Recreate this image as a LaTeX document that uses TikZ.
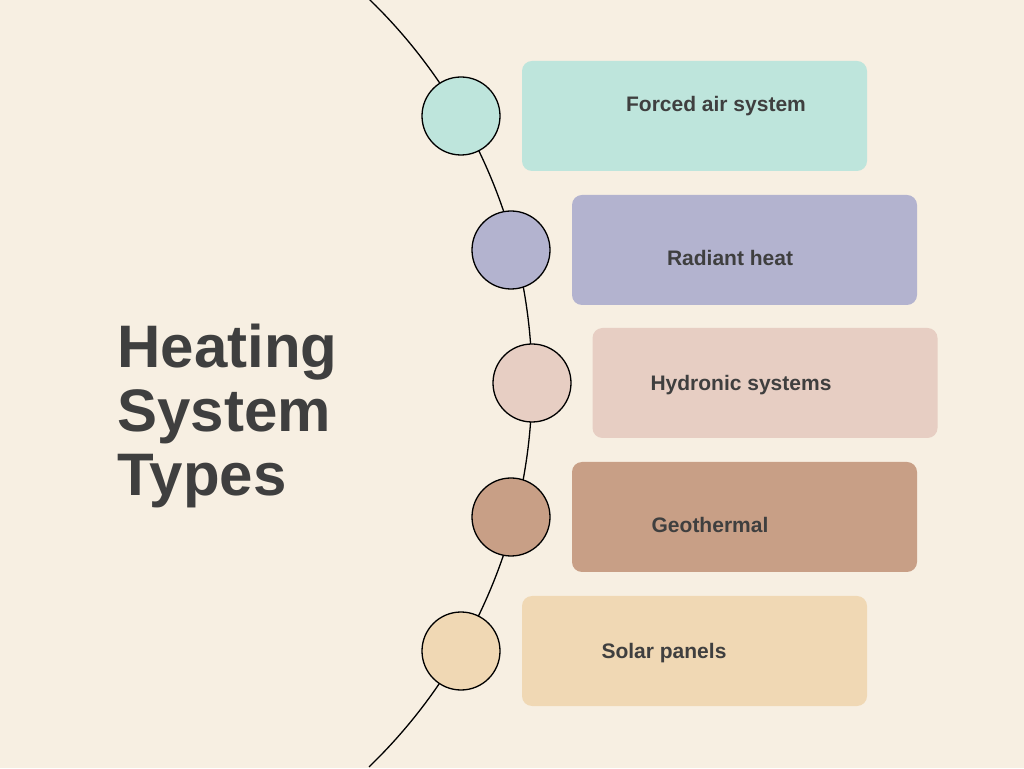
\documentclass[tikz,border=0pt]{standalone}
\usepackage{fontspec}
\setmainfont{Liberation Sans}
\usetikzlibrary{positioning}
\definecolor{bg}{HTML}{F7EFE2}
\definecolor{ink}{HTML}{3F3F3F}
\definecolor{cteal}{HTML}{BEE5DC}
\definecolor{clav}{HTML}{B3B3CF}
\definecolor{cpink}{HTML}{E7CEC3}
\definecolor{cbrown}{HTML}{C89F86}
\definecolor{ctan}{HTML}{F0D8B4}
\begin{document}
\begin{tikzpicture}[x=1pt,y=1pt,
    dot/.style={circle,draw=black,line width=1.3pt,minimum size=78pt,inner sep=0pt},
    card/.style={rectangle,rounded corners=10pt,minimum width=345pt,minimum height=110pt,inner sep=0pt},
    lbl/.style={font=\fontsize{21}{24}\selectfont\bfseries,text=ink}]
    \fill[bg] (0,0) rectangle (1024,768);
    \useasboundingbox (0,0) rectangle (1024,768);
    %%% arc
    \draw[line width=1.3pt] (-1.7,385) ++(-46:533.7pt) arc[start angle=-46,end angle=46,radius=533.7pt];
    %%% title
    \node[anchor=north west,align=left,font=\fontsize{60}{64}\selectfont\bfseries,text=ink] (title) at (114,448) {Heating\\System\\Types};
    %%% cards
    \node[card,fill=cteal] (c1) at (694.5,652) {};
    \node[card,fill=clav] (c2) at (744.5,518) {};
    \node[card,fill=cpink] (c3) at (765,385) {};
    \node[card,fill=cbrown] (c4) at (744.5,251) {};
    \node[card,fill=ctan] (c5) at (694.5,117) {};
    \node[lbl] (t1) at (716,662) {Forced air system};
    \node[lbl] (t2) at (730,510) {Radiant heat};
    \node[lbl] (t3) at (741,383) {Hydronic systems};
    \node[lbl] (t4) at (710,243) {Geothermal};
    \node[lbl] (t5) at (664,115) {Solar panels};
    %%% dots
    \node[dot,fill=cteal] (d1) at (461,652) {};
    \node[dot,fill=clav] (d2) at (511,518) {};
    \node[dot,fill=cpink] (d3) at (532,385) {};
    \node[dot,fill=cbrown] (d4) at (511,251) {};
    \node[dot,fill=ctan] (d5) at (461,117) {};
\end{tikzpicture}
\end{document}
